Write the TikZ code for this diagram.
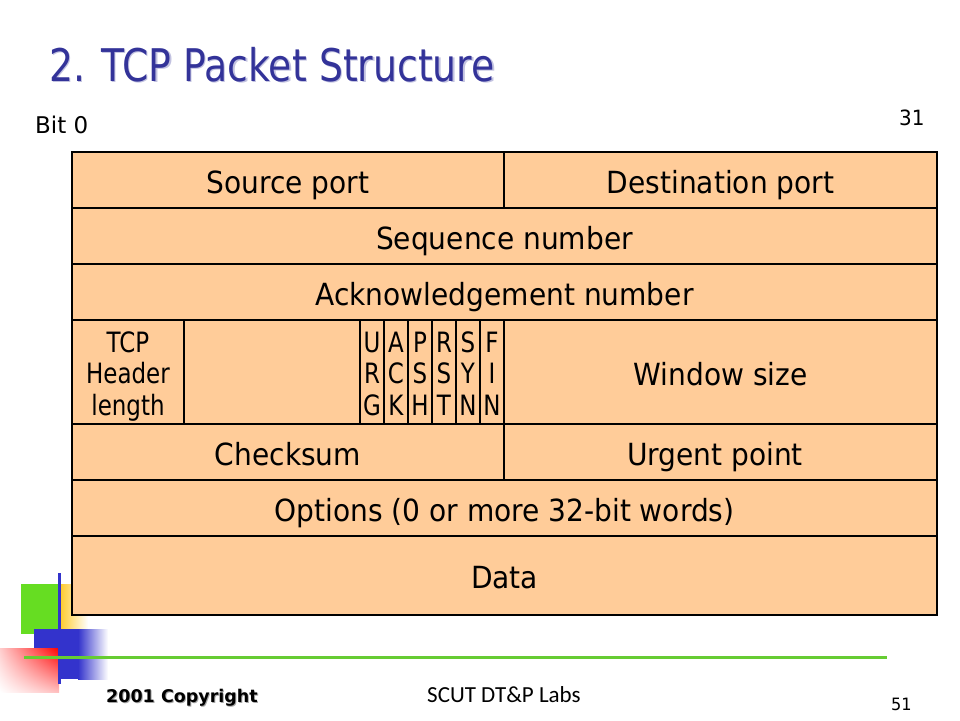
\documentclass[tikz,border=0pt]{standalone}
\usepackage{fontspec}
\setmainfont{DejaVu Sans}
\newfontfamily\labsfont{Carlito}
\usetikzlibrary{shadings}
\definecolor{cellfill}{HTML}{FFCC99}
\definecolor{titleblue}{HTML}{333399}
\definecolor{barblue}{HTML}{3333CC}
\definecolor{linegreen}{HTML}{66CC33}
\definecolor{squaregreen}{HTML}{66DD22}
\definecolor{squareyellow}{HTML}{FFCC33}

\tikzset{
  box/.style={draw=black, line width=1.3pt, fill=cellfill, anchor=north west, inner sep=0pt, outer sep=0pt, align=center},
  cell/.style={box, text height=28pt, text depth=2pt, font=\fontsize{30.5}{32}\selectfont\addfontfeatures{FakeStretch=0.92}},
  tallcell/.style={box, minimum height=104pt, text height=88pt, text depth=2pt, font=\fontsize{28}{31.5}\selectfont\addfontfeatures{FakeStretch=0.82}},
  flagcell/.style={tallcell, minimum width=24pt},
  title/.style={anchor=base west, inner sep=0pt, font=\fontsize{45}{48}\selectfont\addfontfeatures{FakeStretch=0.84}},
  footer/.style={anchor=base west, inner sep=0pt, font=\bfseries\fontsize{17.5}{22}\selectfont}
}

\begin{document}
\begin{tikzpicture}[x=1pt, y=-1pt]
\useasboundingbox (0,0) rectangle (960,720);

% Corner decoration
\fill[squaregreen] (21,584) rectangle (58,634);
\shade[left color=squareyellow, right color=white] (61,584) rectangle (88,634);
\fill[barblue] (34,629) rectangle (78,679);
\shade[left color=barblue, right color=white] (78,629) rectangle (108,679);
\shade[upper right=red, upper left=white!80!red, lower right=white!75!red, lower left=white] (0,648) rectangle (59,692);
\fill[barblue] (58,573) rectangle (61,684);
\fill[linegreen] (24,656) rectangle (887,659);

% Title and its shadow
\node[title, text=titleblue!30!white] (titleshadow) at (50.5,82.5) {2. TCP Packet Structure};
\node[title, text=titleblue] (maintitle) at (49,81) {2. TCP Packet Structure};

\node[anchor=base west, inner sep=0pt, font=\fontsize{23}{25}\selectfont] (bit0) at (35,133) {Bit 0};
\node[anchor=base west, inner sep=0pt, font=\fontsize{21}{25}\selectfont\addfontfeatures{FakeStretch=0.95}] (bit31) at (899,125) {31};

% Rows of the header
\node[cell, minimum width=432pt, minimum height=56pt] (source) at (72,152) {Source port};
\node[cell, minimum width=433pt, minimum height=56pt] (dest) at (504,152) {Destination port};
\node[cell, minimum width=865pt, minimum height=56pt] (seq) at (72,208) {Sequence number};
\node[cell, minimum width=865pt, minimum height=56pt] (ack) at (72,264) {Acknowledgement number};

\node[tallcell, minimum width=112pt] (hlen) at (72,320) {TCP\\Header\\length};
\node[box, minimum width=176pt, minimum height=104pt] (unused) at (184,320) {};
\node[flagcell] (urg) at (360,320) {U\\R\\G};
\node[flagcell] (ackflag) at (384,320) {A\\C\\K};
\node[flagcell] (psh) at (408,320) {P\\S\\H};
\node[flagcell] (rst) at (432,320) {R\\S\\T};
\node[flagcell] (syn) at (456,320) {S\\Y\\N};
\node[flagcell] (fin) at (480,320) {F\\I\\N};
\node[cell, minimum width=433pt, minimum height=104pt] (window) at (504,320) {Window size};

\node[cell, minimum width=432pt, minimum height=56pt] (checksum) at (72,424) {Checksum};
\node[cell, minimum width=433pt, minimum height=56pt] (urgent) at (504,424) {Urgent point\hspace*{11pt}};
\node[cell, minimum width=865pt, minimum height=56pt] (options) at (72,480) {Options (0 or more 32-bit words)};
\node[cell, minimum width=865pt, minimum height=79pt] (data) at (72,536) {Data};

% Footer
\node[footer, text=black!35] (copyshadow) at (107,703) {2001 Copyright};
\node[footer] (copy) at (106,702) {2001 Copyright};
\node[anchor=base west, inner sep=0pt, font=\labsfont\fontsize{23}{25}\selectfont] (labs) at (427,702) {SCUT DT\&P Labs};
\node[anchor=base west, inner sep=0pt, font=\fontsize{17}{20}\selectfont\addfontfeatures{FakeStretch=0.95}] (page) at (891,710) {51};
\end{tikzpicture}
\end{document}
